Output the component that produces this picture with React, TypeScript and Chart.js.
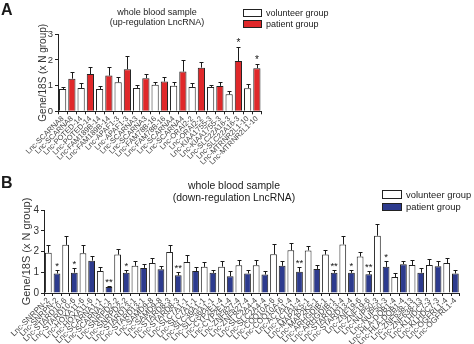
import React, { useEffect, useRef } from "react";
import { Chart, registerables } from "chart.js";
Chart.register(...registerables);

const FONT = "Arial, 'Liberation Sans', Helvetica, sans-serif";

// ---------- Panel A data ----------
const A_GENES = ["Lnc-SCARNA8", "Lnc-POTED-14", "Lnc-FAM189B-14", "Lnc-APAF1-3", "Lnc-SCARNA3", "Lnc-FAM78B-16", "Lnc-SCARNA4", "Lnc-ORAI2-2", "Lnc-KIAA1755-3", "Lnc-SLC22A16-3", "Lnc-MTRNR2L1-10"];
const A_VOL = [0.87, 0.91, 0.87, 1.13, 0.91, 1.03, 1.0, 0.95, 0.95, 0.66, 0.9];
const A_VOL_ERR = [0.09, 0.21, 0.13, 0.19, 0.12, 0.13, 0.16, 0.14, 0.08, 0.15, 0.16];
const A_PAT = [1.27, 1.45, 1.39, 1.64, 1.29, 1.16, 1.55, 1.7, 0.99, 1.96, 1.68];
const A_PAT_ERR = [0.28, 0.26, 0.32, 0.52, 0.15, 0.16, 0.44, 0.24, 0.17, 0.53, 0.18];
const A_SIG = ["", "", "", "", "", "", "", "", "", "*", "*"];
const A_TITLE = ["whole blood sample", "(up-regulation LncRNA)"];

// ---------- Panel B data ----------
const B_GENES = ["Lnc-SNRPN-2", "Lnc-STARD10-6", "Lnc-HOXA11-6", "Lnc-SCARNA1-1", "Lnc-SNRPD2-2", "Lnc-STARD13-1", "Lnc-SAMD9-8", "Lnc-STARD8-3", "Lnc-SLC7A1-1", "Lnc-SLC36A1-1", "Lnc-CYP2E1-4", "Lnc-ZNF827-4", "Lnc-SLC2A4-4", "Lnc-COQ10A-6", "Lnc-ACTA1-4", "Lnc-MAP2K5-1", "Lnc-ARHGDIB-1", "Lnc-STARD13-4", "Lnc-ZNF19-6", "Lnc-NUP50-3", "Lnc-HLA-DQB1-4", "Lnc-ZNF638-13", "Lnc-KLHDC7-3", "Lnc-OGFRL1-4"];
const B_VOL = [1.94, 2.32, 1.92, 1.06, 1.85, 1.31, 1.44, 1.98, 1.5, 1.26, 1.27, 1.34, 1.34, 1.87, 2.06, 2.05, 1.85, 2.34, 1.76, 2.76, 0.77, 1.35, 1.35, 1.44];
const B_VOL_ERR = [0.35, 0.42, 0.37, 0.21, 0.28, 0.22, 0.24, 0.31, 0.32, 0.21, 0.25, 0.24, 0.24, 0.48, 0.36, 0.22, 0.23, 0.43, 0.22, 0.55, 0.2, 0.26, 0.31, 0.25];
const B_PAT = [0.94, 0.98, 1.56, 0.29, 0.97, 1.21, 1.15, 0.85, 1.06, 0.97, 0.81, 0.94, 0.89, 1.31, 1.02, 1.16, 0.97, 0.97, 0.9, 1.26, 1.39, 0.98, 1.29, 0.94];
const B_PAT_ERR = [0.19, 0.23, 0.23, 0.06, 0.16, 0.19, 0.16, 0.18, 0.17, 0.13, 0.25, 0.16, 0.16, 0.21, 0.21, 0.21, 0.16, 0.16, 0.18, 0.27, 0.17, 0.21, 0.23, 0.19];
const B_SIG = ["*", "*", "", "**", "*", "", "", "**", "", "", "", "", "", "", "**", "", "**", "*", "**", "*", "", "", "", ""];
const B_TITLE = ["whole blood sample", "(down-regulation LncRNA)"];

const SERIES_NAMES = ["volunteer group", "patient group"];
const Y_TITLE = "Gene/18S (x N group)";

const W = 474;

type Panel = {
  genes: string[]; vol: number[]; volErr: number[]; pat: number[]; patErr: number[]; sig: string[];
  yMax: number; patColor: string; top: number; height: number;
  left: number; right: number; areaTop: number; areaBottom: number;
  tickFont: number; xFont: number; yTitleFont: number; yTitlePad: number; starFont: number;
};

const PANEL_A: Panel = {
  genes: A_GENES, vol: A_VOL, volErr: A_VOL_ERR, pat: A_PAT, patErr: A_PAT_ERR, sig: A_SIG,
  yMax: 3, patColor: "#e0282a", top: 0, height: 170,
  left: 58, right: 261.5, areaTop: 34.3, areaBottom: 111.3,
  tickFont: 9.5, xFont: 7.5, yTitleFont: 10, yTitlePad: 37, starFont: 10,
};
const PANEL_B: Panel = {
  genes: B_GENES, vol: B_VOL, volErr: B_VOL_ERR, pat: B_PAT, patErr: B_PAT_ERR, sig: B_SIG,
  yMax: 4, patColor: "#2d3b8e", top: 170, height: 174,
  left: 44, right: 459.7, areaTop: 40, areaBottom: 123,
  tickFont: 10, xFont: 8, yTitleFont: 11, yTitlePad: 20, starFont: 9.5,
};

const errorBarPlugin = {
  id: "errorBars",
  afterDatasetsDraw(chart: any) {
    const ctx = chart.ctx;
    const y = chart.scales.y;
    chart.data.datasets.forEach((ds: any, di: number) => {
      const meta = chart.getDatasetMeta(di);
      meta.data.forEach((el: any, i: number) => {
        const v = ds.data[i];
        if (v == null) return;
        const top = y.getPixelForValue(v + ds.errors[i]);
        const x = Math.round(el.x) + 0.5;
        const ty = Math.round(top) + 0.5;
        ctx.save();
        ctx.strokeStyle = "#1a1a1a";
        ctx.lineWidth = 1;
        ctx.beginPath();
        ctx.moveTo(x, el.y);
        ctx.lineTo(x, ty);
        ctx.moveTo(x - 2, ty);
        ctx.lineTo(x + 2, ty);
        ctx.stroke();
        const s = ds.sig ? ds.sig[i] : "";
        if (s) {
          ctx.fillStyle = "#111";
          ctx.font = `${ds.starFont}px ${FONT}`;
          ctx.textAlign = "center";
          ctx.textBaseline = "alphabetic";
          ctx.fillText(s, el.x, top - 1);
        }
        ctx.restore();
      });
    });
  },
};

function buildChart(canvas: HTMLCanvasElement, p: Panel) {
  const labels = p.genes.flatMap((g) => [g, g]);
  const volData = p.genes.flatMap((_, i) => [p.vol[i], null]);
  const volErr = p.genes.flatMap((_, i) => [p.volErr[i], 0]);
  const patData = p.genes.flatMap((_, i) => [null, p.pat[i]]);
  const patErr = p.genes.flatMap((_, i) => [0, p.patErr[i]]);
  const patSig = p.genes.flatMap((_, i) => ["", p.sig[i]]);
  return new Chart(canvas, {
    type: "bar",
    data: {
      labels,
      datasets: [
        {
          label: SERIES_NAMES[0], data: volData, backgroundColor: "#ffffff", borderColor: "#222",
          borderWidth: 1, skipNull: true, categoryPercentage: 1, barPercentage: 0.78,
          errors: volErr, sig: null, starFont: p.starFont,
        } as any,
        {
          label: SERIES_NAMES[1], data: patData, backgroundColor: p.patColor, borderColor: "#222",
          borderWidth: 1, skipNull: true, categoryPercentage: 1, barPercentage: 0.78,
          errors: patErr, sig: patSig, starFont: p.starFont,
        } as any,
      ],
    },
    options: {
      responsive: false,
      animation: false,
      devicePixelRatio: 1,
      layout: { padding: { left: 0, right: W - p.right, top: p.areaTop, bottom: 0 } },
      plugins: { legend: { display: false }, title: { display: false }, tooltip: { enabled: false } },
      scales: {
        x: {
          grid: { display: true, drawOnChartArea: false, drawTicks: true, tickLength: 3, color: "#222" },
          border: { display: true, color: "#222", width: 1 },
          ticks: {
            autoSkip: false, maxRotation: 45, minRotation: 45, padding: 0,
            color: "#444", font: { size: p.xFont, family: FONT },
          },
          afterFit: (s: any) => { s.height = p.height - p.areaBottom; s.paddingLeft = 0; s.paddingRight = 0; },
        },
        y: {
          min: 0, max: p.yMax,
          grid: { display: true, drawOnChartArea: false, drawTicks: true, tickLength: 3, color: "#222" },
          border: { display: true, color: "#222", width: 1 },
          ticks: { stepSize: 1, padding: 2, color: "#333", font: { size: p.tickFont, family: FONT } },
          title: {
            display: true, text: Y_TITLE, color: "#333",
            font: { size: p.yTitleFont, family: FONT }, padding: { top: p.yTitlePad, bottom: 0 },
          },
          afterFit: (s: any) => { s.width = p.left; s.paddingTop = 0; s.paddingBottom = 0; },
        },
      },
    } as any,
    plugins: [errorBarPlugin],
  });
}

const textStyle = (size: number): React.CSSProperties => ({
  position: "absolute", fontFamily: FONT, fontSize: size, color: "#1a1a1a", whiteSpace: "nowrap",
});

function Legend({ x, y, gap, size, box, patColor }: { x: number; y: number; gap: number; size: number; box: [number, number]; patColor: string }) {
  const colors = ["#ffffff", patColor];
  return (
    <>
      {SERIES_NAMES.map((n, i) => (
        <React.Fragment key={n}>
          <div style={{ position: "absolute", left: x, top: y + i * gap, width: box[0], height: box[1], background: colors[i], border: "1px solid #222", boxSizing: "border-box" }} />
          <div style={{ ...textStyle(size), left: x + box[0] + 4, top: y + i * gap + box[1] / 2 - size * 0.6, lineHeight: `${size * 1.2}px` }}>{n}</div>
        </React.Fragment>
      ))}
    </>
  );
}

function Title({ lines, cx, cy, lh, size }: { lines: string[]; cx: number; cy: number; lh: number; size: number }) {
  return (
    <div style={{ ...textStyle(size), left: cx - 100, width: 200, textAlign: "center", top: cy - lh / 2, lineHeight: `${lh}px` }}>
      {lines.map((l) => <div key={l}>{l}</div>)}
    </div>
  );
}

export default function App() {
  const refA = useRef<HTMLCanvasElement>(null);
  const refB = useRef<HTMLCanvasElement>(null);
  useEffect(() => {
    const a = buildChart(refA.current!, PANEL_A);
    const b = buildChart(refB.current!, PANEL_B);
    return () => { a.destroy(); b.destroy(); };
  }, []);
  return (
    <div style={{ position: "absolute", left: 0, top: 0, width: W, height: 344, background: "#fff", overflow: "hidden" }}>
      <canvas ref={refA} width={W} height={PANEL_A.height} style={{ position: "absolute", left: 0, top: PANEL_A.top, display: "block" }} />
      <canvas ref={refB} width={W} height={PANEL_B.height} style={{ position: "absolute", left: 0, top: PANEL_B.top, display: "block" }} />
      <div style={{ ...textStyle(16), fontWeight: "bold", left: 1, top: 1, lineHeight: "18px" }}>A</div>
      <div style={{ ...textStyle(16), fontWeight: "bold", left: 1, top: 174, lineHeight: "18px" }}>B</div>
      <Title lines={A_TITLE} cx={157} cy={11.7} lh={10} size={9} />
      <Title lines={B_TITLE} cx={234} cy={186} lh={12} size={10.4} />
      <Legend x={243} y={9} gap={11} size={9} box={[19, 8]} patColor={PANEL_A.patColor} />
      <Legend x={382} y={190} gap={12.5} size={9.4} box={[20, 8.5]} patColor={PANEL_B.patColor} />
    </div>
  );
}
